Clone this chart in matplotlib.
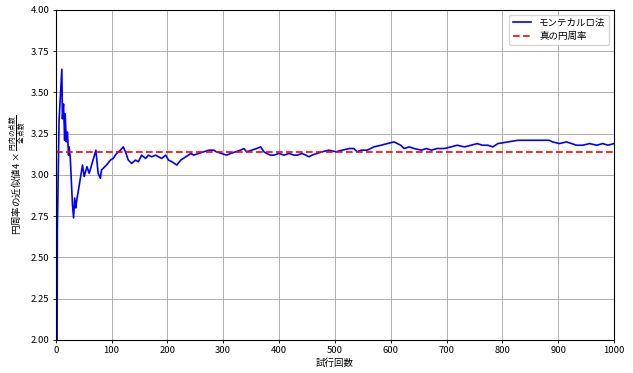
import numpy as np
import matplotlib
matplotlib.use('Agg')
import matplotlib.pyplot as plt

plt.rcParams['font.family'] = ['Noto Sans CJK JP', 'DejaVu Sans']
plt.rcParams['mathtext.fontset'] = 'custom'
plt.rcParams['mathtext.rm'] = 'Noto Sans CJK JP'
plt.rcParams['mathtext.it'] = 'Noto Sans CJK JP'
plt.rcParams['font.size'] = 6.8

# trial number / running estimate
trials = [1, 3, 6, 11, 12, 14, 16, 17, 19, 21, 23, 24, 26, 30, 32, 34, 36, 37,
          48, 51, 56, 60, 72, 76, 80, 82, 91, 98, 103, 109, 116, 121, 125,
          130, 136, 143, 148, 154, 161, 166, 172, 179, 184, 190, 197, 202,
          208, 217, 224, 233, 242, 247, 256, 265, 274, 283, 288, 297, 306,
          313, 322, 331, 337, 342, 351, 360, 367, 373, 378, 385, 391, 400,
          409, 418, 427, 433, 441, 448, 454, 459, 468, 477, 489, 502, 513,
          526, 534, 540, 547, 558, 570, 583, 594, 606, 612, 618, 624, 633,
          642, 655, 664, 673, 683, 696, 708, 719, 732, 744, 755, 764, 774,
          783, 792, 810, 828, 838, 849, 861, 872, 884, 890, 902, 915, 924,
          933, 944, 956, 969, 980, 989, 1000]
estimates = [0.0, 2.67, 3.33, 3.64, 3.34, 3.43, 3.21, 3.37, 3.20, 3.26, 3.12,
             3.17, 3.11, 2.82, 2.74, 2.86, 2.80, 2.83,
             3.06, 2.99, 3.05, 3.01, 3.15, 3.01, 2.98, 3.03, 3.06, 3.09, 3.10,
             3.13, 3.15, 3.17, 3.14,
             3.09, 3.07, 3.09, 3.08, 3.12, 3.10, 3.12, 3.11, 3.12, 3.11, 3.10,
             3.12, 3.09, 3.08, 3.06, 3.09, 3.11, 3.13, 3.12, 3.13, 3.14, 3.15,
             3.15, 3.14, 3.13, 3.12, 3.13, 3.14, 3.15, 3.16, 3.14, 3.15, 3.16,
             3.17, 3.14, 3.13, 3.12, 3.12, 3.13, 3.12, 3.13, 3.12, 3.12, 3.13,
             3.12, 3.11, 3.12, 3.13, 3.14, 3.15, 3.14, 3.15, 3.16, 3.16, 3.14,
             3.15, 3.15, 3.17, 3.18, 3.19, 3.20, 3.19, 3.18, 3.16, 3.17, 3.16,
             3.15, 3.16, 3.15, 3.16, 3.16, 3.17, 3.18, 3.17, 3.18, 3.19, 3.18,
             3.18, 3.17, 3.19, 3.20, 3.21, 3.21, 3.21, 3.21, 3.21, 3.21, 3.20,
             3.19, 3.20, 3.19, 3.18, 3.18, 3.19, 3.18, 3.19, 3.18, 3.19]
true_pi = np.pi

fig = plt.figure(figsize=(6.33, 3.73), dpi=100)
ax = fig.add_axes([0.088, 0.0885, 0.882, 0.885])

ax.plot(trials, estimates, color='b', lw=1.2, label='モンテカルロ法')
ax.axhline(true_pi, color='r', ls=(0, (4, 2)), lw=1.2, label='真の円周率')

ax.set_xlim(0, 1000)
ax.set_ylim(2.0, 4.0)
ax.set_xticks(np.arange(0, 1001, 100))
ax.set_yticks(np.arange(2.0, 4.01, 0.25))
ax.grid(True, color='#b0b0b0', lw=0.7)
ax.tick_params(length=2.5, width=0.6, pad=2)
for s in ax.spines.values():
    s.set_linewidth(0.8)

ax.set_xlabel('試行回数', labelpad=2)
ax.set_ylabel('円周率の近似値4 × $\\frac{\\mathrm{円内の点数}}{\\mathrm{全点数}}$', labelpad=2)
ax.legend(loc='upper right', fontsize=6.8, framealpha=0.8)

fig.savefig('out.png', dpi=100)
